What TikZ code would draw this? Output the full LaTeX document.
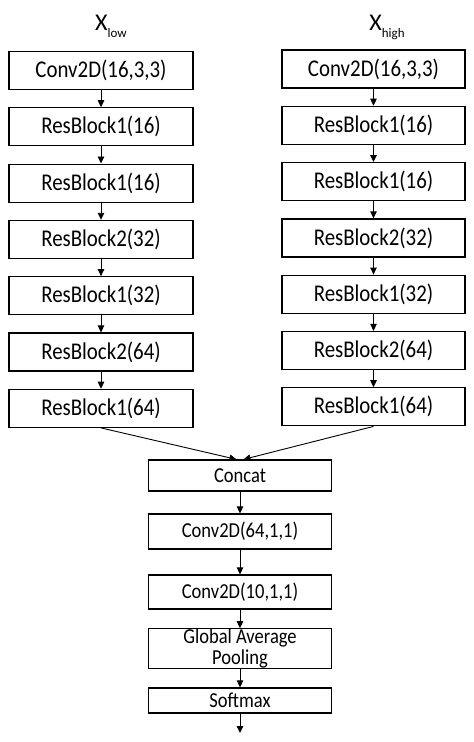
\documentclass[tikz,border=0pt]{standalone}
\usepackage{fontspec}
\usepackage{tikz}
\usetikzlibrary{arrows.meta, positioning}
\newfontfamily\boxfont[FakeStretch=0.87]{Carlito}
\newfontfamily\headfont{Carlito}

\begin{document}
\begin{tikzpicture}[x=1pt, y=1pt, node distance=56.3pt, on grid, >={Triangle[length=7pt, width=6.5pt]}, layer/.style={rectangle, draw, line width=1.2pt, minimum width=184pt, minimum height=38pt, inner sep=0pt, align=center, font=\boxfont\fontsize{24}{24}\selectfont}, merge/.style={layer, minimum width=183pt, font=\boxfont\fontsize{21.3}{21}\selectfont}, inname/.style={anchor=base, inner sep=0pt, font=\headfont\fontsize{24}{24}\selectfont}, link/.style={->, line width=0.9pt}]

        \useasboundingbox (0,0) rectangle (474,-742);

        % inputs
        \node[inname] (xlow) at (111,-30) {X\raisebox{-7pt}{\fontsize{13}{13}\selectfont low}};
        \node[inname] (xhigh) at (387,-30) {X\raisebox{-7pt}{\fontsize{13}{13}\selectfont high}};

        % low branch
        \node[layer] (lconv) at (101,-70.5) {Conv2D(16,3,3)};
        \node[layer, below=of lconv] (lresa) {ResBlock1(16)};
        \node[layer, below=of lresa] (lresb) {ResBlock1(16)};
        \node[layer, below=of lresb] (lresc) {ResBlock2(32)};
        \node[layer, below=of lresc] (lresd) {ResBlock1(32)};
        \node[layer, below=of lresd] (lrese) {ResBlock2(64)};
        \node[layer, below=of lrese] (lresf) {ResBlock1(64)};

        % high branch
        \node[layer, minimum width=183pt] (rconv) at (373.5,-69) {Conv2D(16,3,3)};
        \node[layer, minimum width=183pt, below=of rconv] (rresa) {ResBlock1(16)};
        \node[layer, minimum width=183pt, below=of rresa] (rresb) {ResBlock1(16)};
        \node[layer, minimum width=183pt, below=of rresb] (rresc) {ResBlock2(32)};
        \node[layer, minimum width=183pt, below=of rresc] (rresd) {ResBlock1(32)};
        \node[layer, minimum width=183pt, below=of rresd] (rrese) {ResBlock2(64)};
        \node[layer, minimum width=183pt, below=of rrese] (rresf) {ResBlock1(64)};

        % merged head
        \node[merge, minimum height=31pt] (concat) at (240,-475.5) {Concat};
        \node[merge, minimum height=35pt, below=56pt of concat] (conva) {Conv2D(64,1,1)};
        \node[merge, minimum height=34pt, below=60.5pt of conva] (convb) {Conv2D(10,1,1)};
        \node[merge, minimum height=39pt, below=56.5pt of convb] (gap) {Global Average\\Pooling};
        \node[merge, minimum height=25pt, below=52pt of gap] (soft) {Softmax};

        \coordinate (cinl) at ([xshift=-3.5pt]concat.north);
        \coordinate (cinr) at ([xshift=3.5pt]concat.north);
        \coordinate[below=32.5pt of soft] (out);

        \path[link]
        (lconv) edge[] (lresa)
        (lresa) edge[] (lresb)
        (lresb) edge[] (lresc)
        (lresc) edge[] (lresd)
        (lresd) edge[] (lrese)
        (lrese) edge[] (lresf)
        (rconv) edge[] (rresa)
        (rresa) edge[] (rresb)
        (rresb) edge[] (rresc)
        (rresc) edge[] (rresd)
        (rresd) edge[] (rrese)
        (rrese) edge[] (rresf)
        (lresf.south) edge[] (cinl)
        (rresf.south) edge[] (cinr)
        (concat) edge[] (conva)
        (conva) edge[] (convb)
        (convb) edge[] (gap)
        (gap) edge[] (soft)
        (soft) edge[] (out);

    \end{tikzpicture}
\end{document}
